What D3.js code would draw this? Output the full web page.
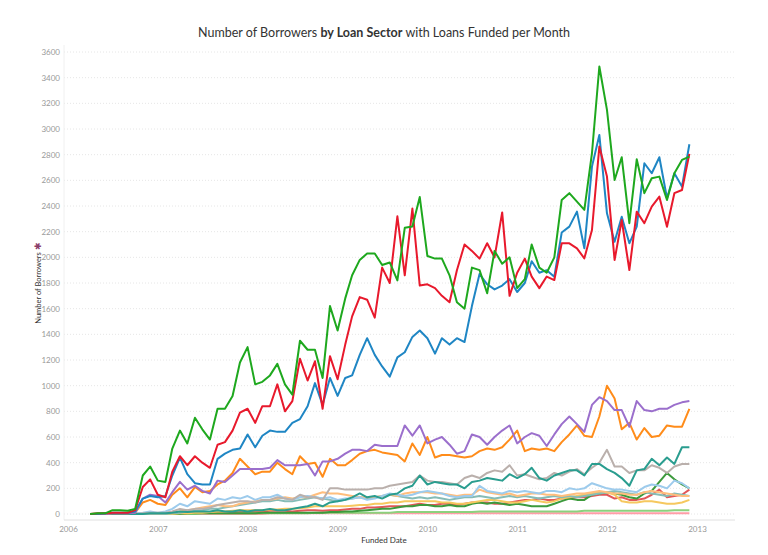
<!DOCTYPE html>
<html><head><meta charset="utf-8">
<script src="https://cdn.jsdelivr.net/npm/d3@7"></script>
<style>body{margin:0;background:#fff;font-family:Lato,"Open Sans",sans-serif}</style>
</head><body>
<svg id="chart" width="768" height="555"></svg>
<script>
const startMonth = new Date(2006, 3, 1); // Apr 2006
const yTicks = d3.range(0, 3601, 200);
const xTickYears = [2006, 2007, 2008, 2009, 2010, 2011, 2012, 2013];

// monthly borrower counts, Apr 2006 .. Dec 2012
const food = [0,5,5,30,30,25,40,300,370,
  260,250,510,650,550,750,660,580,820,820,920,1180,
  1300,1010,1030,1080,1170,1010,930,1350,1280,1280,1060,1620,
  1430,1680,1860,1980,2030,2030,1940,1960,1820,2230,2240,2470,
  2010,1990,1990,1860,1650,1600,1920,1900,1720,2050,1950,2000,
  1760,1830,2100,1920,1880,2000,2447,2500,2434,2370,2811,3487,
  3149,2603,2780,2266,2764,2500,2616,2629,2447,2655,2759,2785];
const retail = [0,5,5,10,10,10,30,210,270,
  150,130,330,450,380,450,400,360,540,560,650,790,
  820,710,840,840,1010,800,880,1210,1040,1190,820,1230,
  1050,1320,1540,1690,1670,1530,1920,1800,2320,1860,2380,1780,
  1790,1760,1700,1650,1900,2100,2050,1990,2110,2000,2350,1700,
  1880,1990,1850,1760,1850,1823,2109,2109,2070,1992,2213,2863,
  2629,1979,2291,1901,2356,2266,2395,2473,2239,2500,2525,2806];
const agriculture = [0,0,5,10,10,10,20,120,140,
  130,140,300,440,310,240,230,230,430,470,500,510,
  620,520,610,650,640,640,710,740,840,1020,850,1060,
  920,1060,1080,1240,1370,1240,1150,1070,1220,1260,1380,1430,
  1370,1250,1370,1320,1370,1340,1620,1870,1790,1750,1780,1830,
  1730,1800,1970,1880,1900,1849,2193,2239,2356,2070,2707,2954,
  2343,2122,2317,2109,2239,2733,2655,2780,2460,2655,2551,2881];
const services = [0,0,0,5,5,5,10,120,150,
  140,90,170,250,190,220,180,160,260,250,300,350,
  350,350,350,360,420,380,380,380,390,300,410,410,
  430,470,500,500,490,540,530,530,530,690,610,690,
  550,580,600,540,470,490,620,600,540,600,650,690,
  550,600,630,610,530,620,700,760,700,640,850,910,
  880,810,810,680,880,810,800,820,820,850,870,880];
const clothing = [0,0,0,5,5,5,10,90,110,
  80,70,150,200,130,210,170,180,230,260,320,430,
  370,310,330,330,400,350,310,450,390,400,290,430,
  380,380,420,470,490,500,480,470,460,410,550,460,
  600,440,460,460,450,440,450,490,510,500,520,580,
  650,490,510,500,510,490,560,620,690,610,600,760,
  1000,900,660,710,580,670,600,610,690,680,680,820];
const housing = [0,0,0,0,0,0,0,0,5,
  5,5,10,20,15,20,20,20,30,20,20,30,
  20,30,30,40,30,30,40,50,60,80,60,90,
  100,110,130,160,130,140,120,150,160,200,220,300,
  230,250,240,230,230,200,250,260,280,270,260,310,
  280,310,360,280,260,300,320,340,340,300,390,390,
  350,320,280,220,340,350,430,380,440,390,520,520];
const transportation = [0,0,0,0,0,0,0,5,10,
  10,10,20,40,30,40,40,50,70,80,90,100,
  100,90,110,110,130,120,110,150,130,130,110,200,
  200,190,190,190,190,200,200,220,230,240,250,300,
  260,250,250,240,230,280,300,280,320,340,330,380,
  300,310,290,270,280,320,300,330,350,310,360,400,
  500,370,370,320,340,340,380,360,320,370,390,390];
const personalUse = [0,0,0,0,0,5,5,10,20,
  10,20,40,80,60,100,90,80,120,110,130,120,
  140,110,130,130,150,120,110,130,140,130,120,130,
  110,120,120,130,110,120,140,160,150,140,150,170,
  180,170,160,140,130,140,140,220,180,170,160,180,
  170,180,170,160,180,180,170,200,190,200,240,220,
  200,190,190,180,170,210,230,220,200,260,240,200];
const arts = [0,0,0,0,0,0,0,5,5,
  5,5,10,20,30,40,50,60,70,60,60,80,
  90,100,110,110,120,130,120,130,130,150,170,160,
  160,150,140,130,130,130,140,150,140,160,170,170,
  170,160,160,150,140,150,150,190,170,160,150,160,
  140,150,160,160,150,150,140,150,160,160,170,180,
  170,160,160,150,150,170,180,170,160,150,140,140];
const construction = [0,0,0,0,0,0,0,0,0,
  0,0,5,10,20,25,30,40,40,50,60,70,
  80,90,100,100,110,100,100,110,120,130,120,110,
  100,110,120,130,120,130,140,150,140,130,120,130,
  120,130,120,110,120,130,130,140,130,120,130,140,
  130,140,130,120,130,140,130,140,130,140,150,160,
  170,180,170,160,150,170,160,150,140,160,150,140];
const education = [0,0,0,0,0,0,0,0,0,
  0,0,0,5,5,10,10,15,20,20,25,30,
  30,30,30,35,35,40,40,45,50,60,60,60,
  60,60,65,70,70,80,80,90,90,100,100,100,
  100,100,90,90,80,80,90,100,110,110,100,90,
  90,100,110,100,90,100,120,130,140,150,160,170,
  170,150,100,90,90,100,100,90,80,80,90,110];
const manufacturing = [0,0,0,0,0,0,0,0,0,
  0,0,0,0,5,5,5,5,5,5,5,5,
  5,5,10,10,10,10,10,10,10,10,10,15,
  15,20,20,25,30,35,40,40,50,60,60,70,
  70,60,60,70,60,60,80,90,80,90,80,70,
  80,70,60,60,60,80,100,120,110,110,150,160,
  170,160,150,130,120,160,180,250,320,270,230,200];
const health = [0,0,0,0,0,0,0,0,0,
  0,0,5,5,5,10,10,10,10,15,15,20,
  20,20,20,25,25,25,20,25,30,30,25,30,
  30,35,40,40,50,50,55,60,60,60,70,80,
  70,70,80,80,70,80,90,90,90,80,80,90,
  100,110,110,120,110,110,120,120,130,130,140,150,
  150,120,130,110,110,120,150,190,130,140,150,190];
const wholesale = [0,0,0,0,0,0,0,0,0,
  0,0,0,0,0,0,5,5,5,5,5,5,
  5,5,5,5,5,5,5,5,5,10,10,10,
  10,10,10,10,10,10,10,10,15,15,15,15,
  15,15,15,15,15,15,15,20,20,20,20,20,
  20,20,20,20,20,20,20,20,20,25,25,25,
  25,25,25,25,25,25,25,25,25,30,30,30];
const entertainment = [0,0,0,0,0,0,0,0,0,
  0,0,0,0,0,0,0,0,0,0,0,0,
  0,0,0,5,5,5,5,5,5,5,5,5,
  5,5,5,5,5,5,5,5,5,5,5,5,
  5,5,5,5,5,5,5,5,5,5,5,5,
  5,5,5,5,5,5,5,5,5,5,5,5,
  5,5,5,5,5,5,5,5,5,5,5,5];

// drawn bottom to top so the big series sit on top
const series = [
  {name: "Entertainment", values: entertainment, color: "#ff9da7"},
  {name: "Wholesale", values: wholesale, color: "#8cd17d"},
  {name: "Health", values: health, color: "#e15759"},
  {name: "Manufacturing", values: manufacturing, color: "#3c9a3c"},
  {name: "Education", values: education, color: "#f6c85f"},
  {name: "Construction", values: construction, color: "#86bcb6"},
  {name: "Arts", values: arts, color: "#ffbe7d"},
  {name: "Personal Use", values: personalUse, color: "#9dcbec"},
  {name: "Transportation", values: transportation, color: "#bab0ac"},
  {name: "Housing", values: housing, color: "#2a9d8f"},
  {name: "Clothing", values: clothing, color: "#ff8c1a"},
  {name: "Services", values: services, color: "#9b6fcc"},
  {name: "Agriculture", values: agriculture, color: "#1f86c4"},
  {name: "Retail", values: retail, color: "#e8192c"},
  {name: "Food", values: food, color: "#1ea81e"}
];

const svg = d3.select("#chart");
const plotLeft = 64, plotRight = 735, plotTop = 45, zeroY = 514;

const x = d3.scaleTime()
  .domain([new Date(2006, 0, 1), new Date(2013, 0, 1)])
  .range([68, 697]);
const y = d3.scaleLinear().domain([0, 3600]).range([zeroY, 52]);
const month = i => d3.timeMonth.offset(startMonth, i);

svg.append("text").attr("x", 384).attr("y", 37).attr("text-anchor", "middle")
  .attr("font-size", 12.5).attr("fill", "#333")
  .html('Number of Borrowers <tspan font-weight="bold">by Loan Sector</tspan> with Loans Funded per Month');

// gridlines + y labels
const gy = svg.append("g");
gy.selectAll("line").data(yTicks).join("line")
  .attr("x1", plotLeft).attr("x2", plotRight)
  .attr("y1", d => y(d)).attr("y2", d => y(d))
  .attr("stroke", "#e6e6e6").attr("stroke-dasharray", "1,2");
gy.selectAll("text").data(yTicks).join("text")
  .attr("x", 60).attr("y", d => y(d) + 3).attr("text-anchor", "end")
  .attr("font-size", 8).attr("fill", "#999").text(d => d);

svg.append("line").attr("x1", plotLeft).attr("x2", plotLeft).attr("y1", plotTop).attr("y2", 520).attr("stroke", "#f0f0f0");
svg.append("line").attr("x1", plotLeft).attr("x2", plotRight).attr("y1", 520).attr("y2", 520).attr("stroke", "#e0e0e0");

const xAxis = d3.axisBottom(x)
  .tickValues(xTickYears.map(v => new Date(v, 0, 1)))
  .tickFormat(d3.timeFormat("%Y")).tickSize(0).tickPadding(6);
const ga = svg.append("g").attr("transform", "translate(0,520)").call(xAxis);
ga.select(".domain").remove();
ga.selectAll("text").attr("font-size", 8).attr("fill", "#999").attr("font-family", "Lato,sans-serif");

svg.append("text").attr("x", 384).attr("y", 543).attr("text-anchor", "middle")
  .attr("font-size", 8).attr("fill", "#333").text("Funded Date");
svg.append("text").attr("transform", "translate(41,283) rotate(-90)").attr("text-anchor", "middle")
  .attr("font-size", 7.5).attr("fill", "#333")
  .html('Number of Borrowers <tspan fill="#8a3e6a" font-size="9">✱</tspan>');

const line = d3.line().x((d, i) => x(month(i))).y(d => y(d));
svg.append("g").selectAll("path").data(series).join("path")
  .attr("d", s => line(s.values))
  .attr("fill", "none").attr("stroke", s => s.color)
  .attr("stroke-width", 2).attr("stroke-linejoin", "round");
</script>
</body></html>
